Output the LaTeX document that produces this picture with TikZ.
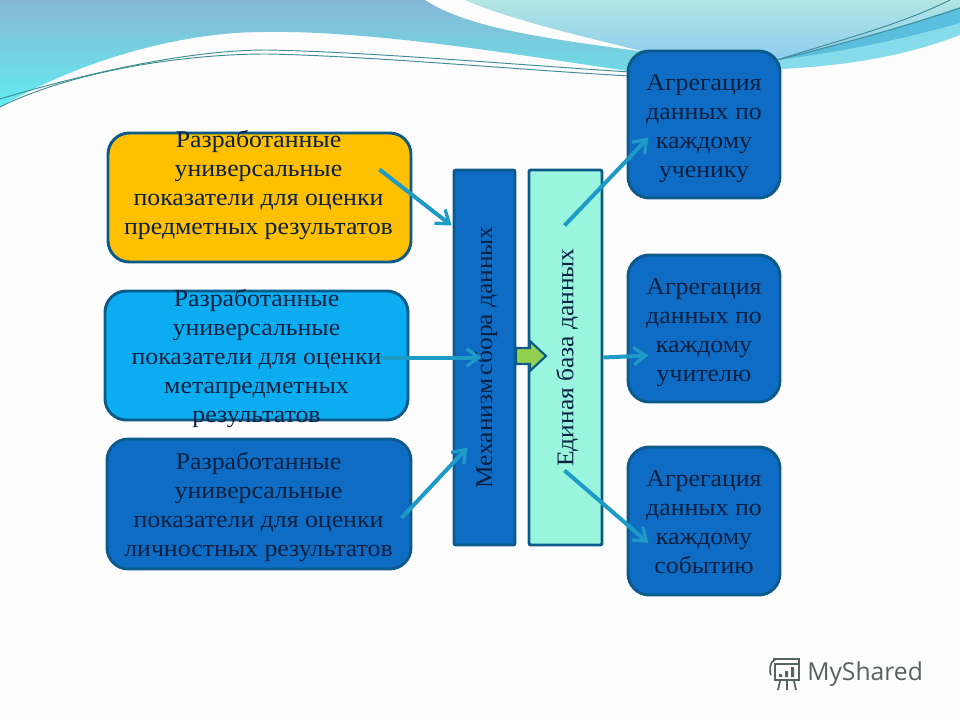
\documentclass[tikz,border=0pt]{standalone}
\usepackage{fontspec}
\setmainfont{Liberation Serif}
\newfontfamily\wmfont{Open Sans}
\newfontfamily\boxfont[FakeStretch=1.075]{Liberation Serif}
\newfontfamily\barfont[FakeStretch=1.06]{Liberation Serif}
\usetikzlibrary{calc,arrows.meta}
\definecolor{edge}{HTML}{0C5A8A}
\definecolor{royal}{HTML}{0F6CC4}
\definecolor{sky}{HTML}{0BADF0}
\definecolor{amber}{HTML}{FFC000}
\definecolor{mint}{HTML}{99F5DD}
\definecolor{flow}{HTML}{1E9AC6}
\definecolor{ink}{HTML}{0A2040}
\definecolor{wm}{HTML}{56645F}
\definecolor{paper}{HTML}{FDFDFD}
\definecolor{wavetop}{HTML}{86B8D4}
\definecolor{wavebot}{HTML}{62ECF0}
\definecolor{lenstop}{HTML}{B2E6E4}
\definecolor{lensbot}{HTML}{8CCCEE}
\definecolor{band}{HTML}{5ABEDE}
\definecolor{bandpale}{HTML}{86DCEA}
\definecolor{leaf}{HTML}{92D050}
\definecolor{threadc}{HTML}{3E8C94}
\tikzset{
  x=0.75pt,y=-0.75pt,
  boxfr/.style={draw=edge,line width=2.2pt,rounded corners=16pt,inner sep=0pt},
  boxtext/.style={text=ink,align=center,inner sep=0pt,font=\boxfont\fontsize{18}{21.75}\selectfont},
  bar/.style={draw=edge,line width=2.2pt,rounded corners=1.5pt,inner sep=0pt},
  vlabel/.style={rotate=90,text=ink,font=\barfont\fontsize{18}{21.75}\selectfont,inner sep=0pt},
  flowarrow/.style={draw=flow,line width=3pt,-{Straight Barb[length=9pt,width=13pt,line width=2.5pt]}},
  thread/.style={line width=0.7pt,draw=threadc},
}
\begin{document}
\begin{tikzpicture}
\useasboundingbox (0,0) rectangle (960,720);
\fill[paper] (0,0) rectangle (960,720);
% background waves
\shade[top color=wavetop,bottom color=wavebot]
  (0,0) -- (425,0) .. controls (470,30) and (560,40) .. (645,52) -- (628,71)
  .. controls (520,55) and (370,30) .. (263,32)
  .. controls (190,32) and (90,55) .. (0,107) -- cycle;
\shade[top color=lenstop,bottom color=lensbot]
  (465,0) -- (960,0) -- (960,12) .. controls (900,30) and (830,48) .. (778,60) -- (645,52)
  .. controls (590,38) and (510,20) .. (465,0) -- cycle;
\fill[bandpale]
  (778,60) .. controls (830,48) and (900,30) .. (960,12) -- (960,35)
  .. controls (900,58) and (840,66) .. (781,69) -- cycle;
\fill[band]
  (778,60) .. controls (830,46) and (900,28) .. (960,7) -- (960,23)
  .. controls (900,40) and (840,52) .. (778,60) -- cycle;
\draw[thread] (0,99) .. controls (70,78) and (180,50) .. (267,50)
  .. controls (370,52) and (520,65) .. (630,72);
\draw[thread] (0,107) .. controls (70,72) and (180,54) .. (267,54)
  .. controls (370,56) and (520,70) .. (630,76);
\draw[thread] (777,60) .. controls (840,40) and (900,25) .. (950,0);
\draw[thread] (777,60) .. controls (850,42) and (910,25) .. (960,8);
% boxes
\node[boxfr,fill=amber,minimum width=303*0.75pt,minimum height=129*0.75pt] (a1) at (259.5,197.5) {};
\node[boxtext] (a1t) at (258.5,185.5)
  {Разработанные\\универсальные\\показатели для оценки\\предметных результатов};
\node[boxfr,fill=sky,minimum width=303*0.75pt,minimum height=129*0.75pt] (a2) at (256.5,355.5) {};
\node[boxtext] (a2t) at (256.5,358)
  {Разработанные\\универсальные\\показатели для оценки\\метапредметных\\результатов};
\node[boxfr,fill=royal,minimum width=304*0.75pt,minimum height=130*0.75pt] (a3) at (259,504) {};
\node[boxtext] (a3t) at (258.5,507)
  {Разработанные\\универсальные\\показатели для оценки\\личностных результатов};
\node[bar,fill=royal,minimum width=61*0.75pt,minimum height=375*0.75pt] (m) at (484.5,357.5) {};
\node[bar,fill=mint,minimum width=73*0.75pt,minimum height=375*0.75pt] (d) at (565.5,357.5) {};
\node[vlabel] (ml) at (486,357.5) {Механизм\ \kern-.12em сбора данных};
\node[vlabel] (dl) at (567,357.5) {Единая база данных};
\node[boxfr,fill=royal,minimum width=152*0.75pt,minimum height=147*0.75pt] (r1) at (704,124.5) {};
\node[boxtext] (r1t) at (704,128.5) {Агрегация\\данных по\\каждому\\ученику};
\node[boxfr,fill=royal,minimum width=152*0.75pt,minimum height=147*0.75pt] (r2) at (704,328.5) {};
\node[boxtext] (r2t) at (704,332.5) {Агрегация\\данных по\\каждому\\учителю};
\node[boxfr,fill=royal,minimum width=152*0.75pt,minimum height=148*0.75pt] (r3) at (704,521) {};
\node[boxtext] (r3t) at (704,522.5) {Агрегация\\данных по\\каждому\\событию};
% green block arrow
\draw[draw=edge,fill=leaf,line width=1.6pt,line join=miter]
  (516,348) -- (530,348) -- (530,341) -- (546,356) -- (530,371) -- (530,364) -- (516,364) -- cycle;
% connectors
\coordinate (s1) at ($(a1.east)+(-33,-28)$);
\coordinate (e1) at ($(m.west)+(-1,-132)$);
\coordinate (s2) at ($(a2.east)+(-28,2)$);
\coordinate (e2) at ($(m.center)+(-3,0)$);
\coordinate (s3) at ($(a3.east)+(-11,14)$);
\coordinate (e3) at ($(m.center)+(-17,90)$);
\coordinate (s4) at ($(d.center)+(-1,-132)$);
\coordinate (e4) at ($(r1.west)+(22,13)$);
\coordinate (s5) at ($(d.east)+(0,0)$);
\coordinate (e5) at ($(r2.west)+(22,27)$);
\coordinate (s6) at ($(d.center)+(-1,113)$);
\coordinate (e6) at ($(r3.west)+(22,22)$);
\draw[flowarrow] (s1) -- (e1);
\draw[flowarrow] (s2) -- (e2);
\draw[flowarrow] (s3) -- (e3);
\draw[flowarrow] (s4) -- (e4);
\draw[flowarrow] (s5) -- (e5);
\draw[flowarrow] (s6) -- (e6);
% watermark
\node[text=wm,font=\wmfont\fontsize{18.5}{20}\selectfont,anchor=west,inner sep=0pt] (wmt) at (807,674) {MyShared};
\begin{scope}[draw=wm,line width=1.3pt]
  \draw (775,664) rectangle (799,680);
  \draw (775,660) .. controls (770,660) and (769,672) .. (771,675);
  \draw (773,659) -- (799,659) -- (799,664);
  \fill[wm] (779,674) rectangle +(3,3) (785,671) rectangle +(3,6) (791,667) rectangle +(3,10);
  \draw (780,681) -- (778,690) (787,681) -- (787,690) (794,681) -- (796,690);
\end{scope}
\end{tikzpicture}
\end{document}
